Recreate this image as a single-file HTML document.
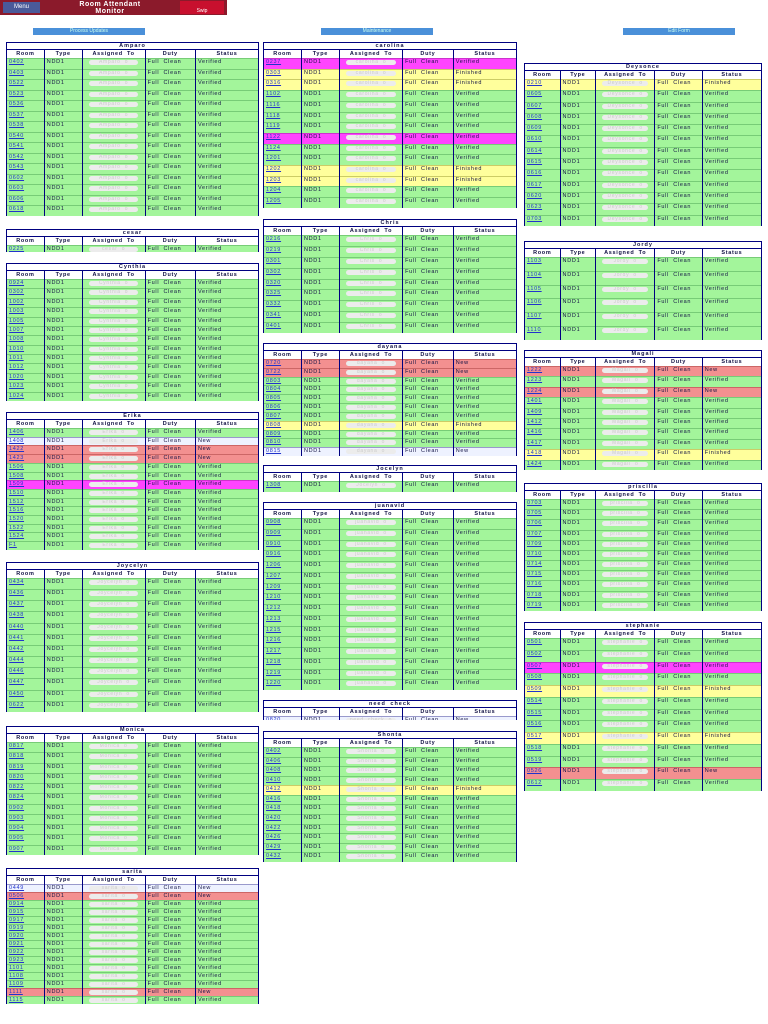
<!DOCTYPE html>
<html><head><meta charset="utf-8"><style>
body{margin:0;width:768px;height:1024px;background:#fff;position:relative;overflow:hidden;font-family:"Liberation Sans",sans-serif;}
.hdr{position:absolute;left:0;top:0;width:227px;height:15px;background:#8b1a2b;}
.menu{position:absolute;left:3px;top:2px;width:37px;height:11px;background:#4a5a9a;color:#fff;font-size:6px;text-align:center;line-height:11px}
.swip{position:absolute;left:180px;top:1px;width:44px;height:13px;background:#c8102e;color:#fff;font-size:5px;text-align:center;line-height:20px}
.title{position:absolute;left:55px;top:1px;width:110px;color:#fff;font-size:7px;text-align:center;line-height:7px;font-weight:bold;letter-spacing:.5px}
.btn{position:absolute;height:7px;background:#4a90d9;color:#cfe;font-size:5px;text-align:center;line-height:7px}
.wrap{position:absolute;overflow:hidden}
table{border-collapse:collapse;font-size:5.5px;table-layout:fixed;border:1px solid #000080;width:100%;height:100%}
td,th{border-left:1px solid #000080;border-right:1px solid #000080;padding:1px 2px 0;vertical-align:top;overflow:hidden;line-height:5px;color:#114;letter-spacing:.7px;word-spacing:2px}
th{background:#fff;font-size:5.5px;text-align:center;line-height:5px;vertical-align:middle}
.t{text-align:center;font-weight:bold;border-bottom:1px solid #000080;letter-spacing:1px}
.g td{background:#a3f59b;border-top:1px solid #7c7}
.y td{background:#ffff9c;border-top:1px solid #cc6}
.m td{background:#ff44ff;border-top:1px solid #c3c}
.r td{background:#f39090;border-top:1px solid #c66}
.w td{background:#eef2ff;border-top:1px solid #99c}
.rm{color:#2233cc;text-decoration:underline}
.pill{display:inline-block;background:#ececec;border-radius:4px;width:85%;height:5px;color:#ccc;font-size:5px;line-height:5px}
</style></head><body>
<div class="hdr"><div class="menu">Menu</div><div class="title">Room Attendant<br>Monitor</div><div class="swip">Swip</div></div>
<div class="btn" style="left:33px;top:28px;width:112px">Process Updates</div>
<div class="btn" style="left:321px;top:28px;width:112px">Maintenance</div>
<div class="btn" style="left:623px;top:28px;width:112px">Edit Form</div>
<div id="c"></div>
<script>
var C1=[6,253],C2=[263,254],C3=[524,238];
var T=[
["Amparo",C1,42,216,"0402g 0403g 0522g 0523g 0536g 0537g 0538g 0540g 0541g 0542g 0543g 0602g 0603g 0606g 0618g"],
["cesar",C1,229,252,"0225g"],
["Cynthia",C1,263,401,"0924g 0302g 1002g 1003g 1005g 1007g 1008g 1010g 1011g 1012g 1020g 1023g 1024g"],
["Erika",C1,412,550,"1406g 1408w 1422r 1423r 1506g 1508g 1509m 1510g 1512g 1516g 1520g 1522g 1524g F1g"],
["Joycelyn",C1,562,712,"0434g 0436g 0437g 0438g 0440g 0441g 0442g 0444g 0446g 0447g 0450g 0622g"],
["Monica",C1,726,855,"0817g 0818g 0819g 0820g 0822g 0824g 0902g 0903g 0904g 0905g 0907g"],
["sarita",C1,868,1004,"0449w 0506r 0914g 0915g 0917g 0919g 0920g 0921g 0922g 0923g 1101g 1108g 1109g 1111r 1115g"],
["carolina",C2,42,208,"0237m 0303y 0316y 1102g 1116g 1118g 1119g 1122m 1124g 1201g 1202y 1203y 1204g 1205g"],
["Chris",C2,219,333,"0216g 0219g 0301g 0302g 0320g 0325g 0332g 0341g 0401g"],
["dayana",C2,343,456,"0720r 0722r 0803g 0804g 0805g 0806g 0807g 0808y 0809g 0810g 0815w"],
["Jocelyn",C2,465,492,"1308g"],
["juanavid",C2,502,690,"0908g 0909g 0910g 0916g 1206g 1207g 1209g 1210g 1212g 1213g 1215g 1216g 1217g 1218g 1219g 1220g"],
["need check",C2,700,720,"0820w"],
["Shonta",C2,731,862,"0402g 0406g 0408g 0410g 0412y 0416g 0418g 0420g 0422g 0426g 0429g 0432g"],
["Deysonce",C3,63,226,"0210y 0605g 0607g 0608g 0609g 0610g 0614g 0615g 0616g 0617g 0620g 0623g 0703g"],
["Jordy",C3,241,340,"1103g 1104g 1105g 1106g 1107g 1110g"],
["Magali",C3,350,470,"1222r 1223g 1224r 1401g 1409g 1412g 1416g 1417g 1418y 1424g"],
["priscilla",C3,483,611,"0703g 0705g 0706g 0707g 0709g 0710g 0714g 0715g 0716g 0718g 0719g"],
["stephanie",C3,622,791,"0501g 0502g 0507m 0508g 0509y 0514g 0515g 0516g 0517y 0518g 0519g 0526r 0612g"]
];
var st={g:"Verified",y:"Finished",m:"Verified",r:"New",w:"New"};
var h="";
T.forEach(function(t){
 var rows=t[4].split(" "),x=t[1][0],w=t[1][1],top=t[2],bot=t[3];
 var rh=(bot-top-16)/rows.length;
 h+='<div class="wrap" style="left:'+x+'px;top:'+top+'px;width:'+w+'px;height:'+(bot-top)+'px"><table><colgroup><col style="width:15%"><col style="width:15%"><col style="width:25%"><col style="width:20%"><col style="width:25%"></colgroup>';
 h+='<tr style="height:7px"><td colspan="5" class="t">'+t[0]+'</td></tr><tr style="height:9px"><th>Room</th><th>Type</th><th>Assigned To</th><th>Duty</th><th>Status</th></tr>';
 rows.forEach(function(r,i){var c=r.slice(-1),n=r.slice(0,-1);
  h+='<tr class="'+c+'" style="height:'+rh+'px"><td class="rm">'+n+'</td><td>NDD1</td><td style="text-align:center"><span class="pill">'+t[0]+' o</span></td><td>Full Clean</td><td>'+st[c]+'</td></tr>';});
 h+='</table></div>';
});
document.getElementById("c").innerHTML=h;
</script>
</body></html>
